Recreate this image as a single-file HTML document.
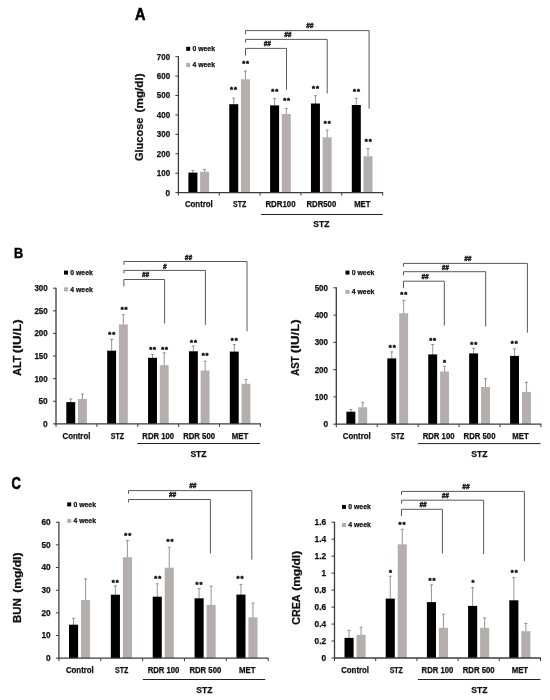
<!DOCTYPE html>
<html><head><meta charset="utf-8"><title>Figure</title>
<style>
html,body{margin:0;padding:0;background:#fff;}
svg{display:block;font-family:'Liberation Sans', sans-serif;}
</style></head>
<body>
<svg width="550" height="700" viewBox="0 0 550 700" font-family="'Liberation Sans', sans-serif">
<rect x="0" y="0" width="550" height="700" fill="#ffffff"/>
<line x1="192.90" y1="173.10" x2="192.90" y2="170.40" stroke="#7a7a7a" stroke-width="0.8"/>
<line x1="191.40" y1="170.40" x2="194.40" y2="170.40" stroke="#7a7a7a" stroke-width="0.8"/>
<line x1="204.60" y1="172.30" x2="204.60" y2="169.40" stroke="#7a7a7a" stroke-width="0.8"/>
<line x1="203.10" y1="169.40" x2="206.10" y2="169.40" stroke="#7a7a7a" stroke-width="0.8"/>
<rect x="188.40" y="172.60" width="9.00" height="20.00" fill="#000"/>
<rect x="200.10" y="171.80" width="9.00" height="20.80" fill="#b4aeac"/>
<line x1="233.75" y1="104.70" x2="233.75" y2="98.20" stroke="#7a7a7a" stroke-width="0.8"/>
<line x1="232.25" y1="98.20" x2="235.25" y2="98.20" stroke="#7a7a7a" stroke-width="0.8"/>
<line x1="245.45" y1="79.80" x2="245.45" y2="71.00" stroke="#7a7a7a" stroke-width="0.8"/>
<line x1="243.95" y1="71.00" x2="246.95" y2="71.00" stroke="#7a7a7a" stroke-width="0.8"/>
<rect x="229.25" y="104.20" width="9.00" height="88.40" fill="#000"/>
<rect x="240.95" y="79.30" width="9.00" height="113.30" fill="#b4aeac"/>
<line x1="274.60" y1="105.90" x2="274.60" y2="98.60" stroke="#7a7a7a" stroke-width="0.8"/>
<line x1="273.10" y1="98.60" x2="276.10" y2="98.60" stroke="#7a7a7a" stroke-width="0.8"/>
<line x1="286.30" y1="114.50" x2="286.30" y2="108.40" stroke="#7a7a7a" stroke-width="0.8"/>
<line x1="284.80" y1="108.40" x2="287.80" y2="108.40" stroke="#7a7a7a" stroke-width="0.8"/>
<rect x="270.10" y="105.40" width="9.00" height="87.20" fill="#000"/>
<rect x="281.80" y="114.00" width="9.00" height="78.60" fill="#b4aeac"/>
<line x1="315.45" y1="104.00" x2="315.45" y2="95.70" stroke="#7a7a7a" stroke-width="0.8"/>
<line x1="313.95" y1="95.70" x2="316.95" y2="95.70" stroke="#7a7a7a" stroke-width="0.8"/>
<line x1="327.15" y1="137.80" x2="327.15" y2="130.00" stroke="#7a7a7a" stroke-width="0.8"/>
<line x1="325.65" y1="130.00" x2="328.65" y2="130.00" stroke="#7a7a7a" stroke-width="0.8"/>
<rect x="310.95" y="103.50" width="9.00" height="89.10" fill="#000"/>
<rect x="322.65" y="137.30" width="9.00" height="55.30" fill="#b4aeac"/>
<line x1="356.30" y1="105.50" x2="356.30" y2="98.30" stroke="#7a7a7a" stroke-width="0.8"/>
<line x1="354.80" y1="98.30" x2="357.80" y2="98.30" stroke="#7a7a7a" stroke-width="0.8"/>
<line x1="368.00" y1="156.80" x2="368.00" y2="148.50" stroke="#7a7a7a" stroke-width="0.8"/>
<line x1="366.50" y1="148.50" x2="369.50" y2="148.50" stroke="#7a7a7a" stroke-width="0.8"/>
<rect x="351.80" y="105.00" width="9.00" height="87.60" fill="#000"/>
<rect x="363.50" y="156.30" width="9.00" height="36.30" fill="#b4aeac"/>
<line x1="178.40" y1="56.20" x2="178.40" y2="193.20" stroke="#3c3c3c" stroke-width="1.3"/>
<line x1="177.80" y1="192.60" x2="383.15" y2="192.60" stroke="#3c3c3c" stroke-width="1.3"/>
<line x1="175.40" y1="192.60" x2="178.40" y2="192.60" stroke="#3c3c3c" stroke-width="1"/>
<text x="170.10" y="195.55" font-size="8.3" text-anchor="end" fill="#111" font-weight="bold" stroke="#111" stroke-width="0.25">0</text>
<line x1="175.40" y1="173.19" x2="178.40" y2="173.19" stroke="#3c3c3c" stroke-width="1"/>
<text x="170.10" y="176.14" font-size="8.3" text-anchor="end" fill="#111" font-weight="bold" textLength="13.30" lengthAdjust="spacingAndGlyphs" stroke="#111" stroke-width="0.25">100</text>
<line x1="175.40" y1="153.77" x2="178.40" y2="153.77" stroke="#3c3c3c" stroke-width="1"/>
<text x="170.10" y="156.72" font-size="8.3" text-anchor="end" fill="#111" font-weight="bold" textLength="13.30" lengthAdjust="spacingAndGlyphs" stroke="#111" stroke-width="0.25">200</text>
<line x1="175.40" y1="134.36" x2="178.40" y2="134.36" stroke="#3c3c3c" stroke-width="1"/>
<text x="170.10" y="137.31" font-size="8.3" text-anchor="end" fill="#111" font-weight="bold" textLength="13.30" lengthAdjust="spacingAndGlyphs" stroke="#111" stroke-width="0.25">300</text>
<line x1="175.40" y1="114.94" x2="178.40" y2="114.94" stroke="#3c3c3c" stroke-width="1"/>
<text x="170.10" y="117.89" font-size="8.3" text-anchor="end" fill="#111" font-weight="bold" textLength="13.30" lengthAdjust="spacingAndGlyphs" stroke="#111" stroke-width="0.25">400</text>
<line x1="175.40" y1="95.53" x2="178.40" y2="95.53" stroke="#3c3c3c" stroke-width="1"/>
<text x="170.10" y="98.48" font-size="8.3" text-anchor="end" fill="#111" font-weight="bold" textLength="13.30" lengthAdjust="spacingAndGlyphs" stroke="#111" stroke-width="0.25">500</text>
<line x1="175.40" y1="76.11" x2="178.40" y2="76.11" stroke="#3c3c3c" stroke-width="1"/>
<text x="170.10" y="79.06" font-size="8.3" text-anchor="end" fill="#111" font-weight="bold" textLength="13.30" lengthAdjust="spacingAndGlyphs" stroke="#111" stroke-width="0.25">600</text>
<line x1="175.40" y1="56.70" x2="178.40" y2="56.70" stroke="#3c3c3c" stroke-width="1"/>
<text x="170.10" y="59.65" font-size="8.3" text-anchor="end" fill="#111" font-weight="bold" textLength="13.30" lengthAdjust="spacingAndGlyphs" stroke="#111" stroke-width="0.25">700</text>
<line x1="178.40" y1="192.60" x2="178.40" y2="195.60" stroke="#3c3c3c" stroke-width="1"/>
<line x1="219.25" y1="192.60" x2="219.25" y2="195.60" stroke="#3c3c3c" stroke-width="1"/>
<line x1="260.10" y1="192.60" x2="260.10" y2="195.60" stroke="#3c3c3c" stroke-width="1"/>
<line x1="300.95" y1="192.60" x2="300.95" y2="195.60" stroke="#3c3c3c" stroke-width="1"/>
<line x1="341.80" y1="192.60" x2="341.80" y2="195.60" stroke="#3c3c3c" stroke-width="1"/>
<line x1="382.65" y1="192.60" x2="382.65" y2="195.60" stroke="#3c3c3c" stroke-width="1"/>
<text x="198.83" y="207.40" font-size="8.2" text-anchor="middle" fill="#111" font-weight="bold" textLength="27.90" lengthAdjust="spacingAndGlyphs" stroke="#111" stroke-width="0.25">Control</text>
<text x="239.68" y="207.40" font-size="8.2" text-anchor="middle" fill="#111" font-weight="bold" textLength="13.20" lengthAdjust="spacingAndGlyphs" stroke="#111" stroke-width="0.25">STZ</text>
<text x="280.52" y="207.40" font-size="8.2" text-anchor="middle" fill="#111" font-weight="bold" textLength="30.20" lengthAdjust="spacingAndGlyphs" stroke="#111" stroke-width="0.25">RDR100</text>
<text x="321.38" y="207.40" font-size="8.2" text-anchor="middle" fill="#111" font-weight="bold" textLength="29.70" lengthAdjust="spacingAndGlyphs" stroke="#111" stroke-width="0.25">RDR500</text>
<text x="362.23" y="207.40" font-size="8.2" text-anchor="middle" fill="#111" font-weight="bold" textLength="16.20" lengthAdjust="spacingAndGlyphs" stroke="#111" stroke-width="0.25">MET</text>
<line x1="261.00" y1="214.50" x2="382.70" y2="214.50" stroke="#222" stroke-width="1"/>
<text x="321.40" y="227.40" font-size="9.6" text-anchor="middle" fill="#111" font-weight="bold" textLength="16.20" lengthAdjust="spacingAndGlyphs" stroke="#111" stroke-width="0.25">STZ</text>
<text x="143.10" y="161.00" font-size="10.8" text-anchor="start" fill="#111" font-weight="bold" textLength="43.40" lengthAdjust="spacingAndGlyphs" transform="rotate(-90 143.10 161.00)" stroke="#111" stroke-width="0.25">Glucose</text>
<text x="143.10" y="112.40" font-size="10.8" text-anchor="start" fill="#111" font-weight="bold" textLength="39.10" lengthAdjust="spacingAndGlyphs" transform="rotate(-90 143.10 112.40)" stroke="#111" stroke-width="0.25">(mg/dl)</text>
<rect x="186.20" y="46.80" width="4.00" height="4.00" fill="#000"/>
<rect x="186.20" y="63.00" width="4.00" height="4.00" fill="#b4aeac"/>
<text x="192.50" y="51.20" font-size="6.9" text-anchor="start" fill="#111" font-weight="bold" textLength="22.50" lengthAdjust="spacingAndGlyphs" stroke="#111" stroke-width="0.25">0 week</text>
<text x="192.50" y="67.40" font-size="6.9" text-anchor="start" fill="#111" font-weight="bold" textLength="22.50" lengthAdjust="spacingAndGlyphs" stroke="#111" stroke-width="0.25">4 week</text>
<polyline points="245.50,34.30 245.50,30.60 369.10,30.60 369.10,108.80" fill="none" stroke="#5a5a5a" stroke-width="1" stroke-linejoin="round"/>
<text x="309.70" y="28.20" font-size="6.4" text-anchor="middle" fill="#222" font-weight="bold" font-style="italic" stroke="#222" stroke-width="0.45">##</text>
<polyline points="245.50,42.70 245.50,39.40 327.20,39.40 327.20,93.50" fill="none" stroke="#5a5a5a" stroke-width="1" stroke-linejoin="round"/>
<text x="287.70" y="37.40" font-size="6.4" text-anchor="middle" fill="#222" font-weight="bold" font-style="italic" stroke="#222" stroke-width="0.45">##</text>
<polyline points="245.50,55.60 245.50,48.40 286.50,48.40 286.50,89.80" fill="none" stroke="#5a5a5a" stroke-width="1" stroke-linejoin="round"/>
<text x="267.20" y="46.40" font-size="6.4" text-anchor="middle" fill="#222" font-weight="bold" font-style="italic" stroke="#222" stroke-width="0.45">##</text>
<text x="234.00" y="92.40" font-size="7.6" text-anchor="middle" fill="#111" font-weight="bold" stroke="#111" stroke-width="0.5" letter-spacing="1.0">**</text>
<text x="246.10" y="65.80" font-size="7.6" text-anchor="middle" fill="#111" font-weight="bold" stroke="#111" stroke-width="0.5" letter-spacing="1.0">**</text>
<text x="275.30" y="94.00" font-size="7.6" text-anchor="middle" fill="#111" font-weight="bold" stroke="#111" stroke-width="0.5" letter-spacing="1.0">**</text>
<text x="287.10" y="102.90" font-size="7.6" text-anchor="middle" fill="#111" font-weight="bold" stroke="#111" stroke-width="0.5" letter-spacing="1.0">**</text>
<text x="316.00" y="91.30" font-size="7.6" text-anchor="middle" fill="#111" font-weight="bold" stroke="#111" stroke-width="0.5" letter-spacing="1.0">**</text>
<text x="327.70" y="125.60" font-size="7.6" text-anchor="middle" fill="#111" font-weight="bold" stroke="#111" stroke-width="0.5" letter-spacing="1.0">**</text>
<text x="356.90" y="93.60" font-size="7.6" text-anchor="middle" fill="#111" font-weight="bold" stroke="#111" stroke-width="0.5" letter-spacing="1.0">**</text>
<text x="368.70" y="144.00" font-size="7.6" text-anchor="middle" fill="#111" font-weight="bold" stroke="#111" stroke-width="0.5" letter-spacing="1.0">**</text>
<text transform="translate(134.90,19.60) scale(0.93,1)" font-size="15.6" font-weight="bold" fill="#000" stroke="#000" stroke-width="0.55">A</text>
<line x1="70.75" y1="402.60" x2="70.75" y2="399.00" stroke="#7a7a7a" stroke-width="0.8"/>
<line x1="69.25" y1="399.00" x2="72.25" y2="399.00" stroke="#7a7a7a" stroke-width="0.8"/>
<line x1="82.45" y1="399.50" x2="82.45" y2="394.00" stroke="#7a7a7a" stroke-width="0.8"/>
<line x1="80.95" y1="394.00" x2="83.95" y2="394.00" stroke="#7a7a7a" stroke-width="0.8"/>
<rect x="66.30" y="402.10" width="8.90" height="21.80" fill="#000"/>
<rect x="78.00" y="399.00" width="8.90" height="24.90" fill="#b4aeac"/>
<line x1="111.63" y1="351.20" x2="111.63" y2="339.50" stroke="#7a7a7a" stroke-width="0.8"/>
<line x1="110.13" y1="339.50" x2="113.13" y2="339.50" stroke="#7a7a7a" stroke-width="0.8"/>
<line x1="123.33" y1="324.90" x2="123.33" y2="314.80" stroke="#7a7a7a" stroke-width="0.8"/>
<line x1="121.83" y1="314.80" x2="124.83" y2="314.80" stroke="#7a7a7a" stroke-width="0.8"/>
<rect x="107.18" y="350.70" width="8.90" height="73.20" fill="#000"/>
<rect x="118.88" y="324.40" width="8.90" height="99.50" fill="#b4aeac"/>
<line x1="152.51" y1="358.30" x2="152.51" y2="354.40" stroke="#7a7a7a" stroke-width="0.8"/>
<line x1="151.01" y1="354.40" x2="154.01" y2="354.40" stroke="#7a7a7a" stroke-width="0.8"/>
<line x1="164.21" y1="365.70" x2="164.21" y2="352.80" stroke="#7a7a7a" stroke-width="0.8"/>
<line x1="162.71" y1="352.80" x2="165.71" y2="352.80" stroke="#7a7a7a" stroke-width="0.8"/>
<rect x="148.06" y="357.80" width="8.90" height="66.10" fill="#000"/>
<rect x="159.76" y="365.20" width="8.90" height="58.70" fill="#b4aeac"/>
<line x1="193.39" y1="351.80" x2="193.39" y2="346.00" stroke="#7a7a7a" stroke-width="0.8"/>
<line x1="191.89" y1="346.00" x2="194.89" y2="346.00" stroke="#7a7a7a" stroke-width="0.8"/>
<line x1="205.09" y1="371.00" x2="205.09" y2="361.20" stroke="#7a7a7a" stroke-width="0.8"/>
<line x1="203.59" y1="361.20" x2="206.59" y2="361.20" stroke="#7a7a7a" stroke-width="0.8"/>
<rect x="188.94" y="351.30" width="8.90" height="72.60" fill="#000"/>
<rect x="200.64" y="370.50" width="8.90" height="53.40" fill="#b4aeac"/>
<line x1="234.27" y1="352.10" x2="234.27" y2="344.50" stroke="#7a7a7a" stroke-width="0.8"/>
<line x1="232.77" y1="344.50" x2="235.77" y2="344.50" stroke="#7a7a7a" stroke-width="0.8"/>
<line x1="245.97" y1="384.30" x2="245.97" y2="379.60" stroke="#7a7a7a" stroke-width="0.8"/>
<line x1="244.47" y1="379.60" x2="247.47" y2="379.60" stroke="#7a7a7a" stroke-width="0.8"/>
<rect x="229.82" y="351.60" width="8.90" height="72.30" fill="#000"/>
<rect x="241.52" y="383.80" width="8.90" height="40.10" fill="#b4aeac"/>
<line x1="56.00" y1="287.70" x2="56.00" y2="424.50" stroke="#3c3c3c" stroke-width="1.3"/>
<line x1="55.40" y1="423.90" x2="260.90" y2="423.90" stroke="#3c3c3c" stroke-width="1.3"/>
<line x1="53.00" y1="423.90" x2="56.00" y2="423.90" stroke="#3c3c3c" stroke-width="1"/>
<text x="47.70" y="426.85" font-size="8.3" text-anchor="end" fill="#111" font-weight="bold" stroke="#111" stroke-width="0.25">0</text>
<line x1="53.00" y1="401.28" x2="56.00" y2="401.28" stroke="#3c3c3c" stroke-width="1"/>
<text x="47.70" y="404.23" font-size="8.3" text-anchor="end" fill="#111" font-weight="bold" textLength="9.20" lengthAdjust="spacingAndGlyphs" stroke="#111" stroke-width="0.25">50</text>
<line x1="53.00" y1="378.67" x2="56.00" y2="378.67" stroke="#3c3c3c" stroke-width="1"/>
<text x="47.70" y="381.62" font-size="8.3" text-anchor="end" fill="#111" font-weight="bold" textLength="13.30" lengthAdjust="spacingAndGlyphs" stroke="#111" stroke-width="0.25">100</text>
<line x1="53.00" y1="356.05" x2="56.00" y2="356.05" stroke="#3c3c3c" stroke-width="1"/>
<text x="47.70" y="359.00" font-size="8.3" text-anchor="end" fill="#111" font-weight="bold" textLength="13.30" lengthAdjust="spacingAndGlyphs" stroke="#111" stroke-width="0.25">150</text>
<line x1="53.00" y1="333.43" x2="56.00" y2="333.43" stroke="#3c3c3c" stroke-width="1"/>
<text x="47.70" y="336.38" font-size="8.3" text-anchor="end" fill="#111" font-weight="bold" textLength="13.30" lengthAdjust="spacingAndGlyphs" stroke="#111" stroke-width="0.25">200</text>
<line x1="53.00" y1="310.82" x2="56.00" y2="310.82" stroke="#3c3c3c" stroke-width="1"/>
<text x="47.70" y="313.77" font-size="8.3" text-anchor="end" fill="#111" font-weight="bold" textLength="13.30" lengthAdjust="spacingAndGlyphs" stroke="#111" stroke-width="0.25">250</text>
<line x1="53.00" y1="288.20" x2="56.00" y2="288.20" stroke="#3c3c3c" stroke-width="1"/>
<text x="47.70" y="291.15" font-size="8.3" text-anchor="end" fill="#111" font-weight="bold" textLength="13.30" lengthAdjust="spacingAndGlyphs" stroke="#111" stroke-width="0.25">300</text>
<line x1="56.00" y1="423.90" x2="56.00" y2="426.90" stroke="#3c3c3c" stroke-width="1"/>
<line x1="96.88" y1="423.90" x2="96.88" y2="426.90" stroke="#3c3c3c" stroke-width="1"/>
<line x1="137.76" y1="423.90" x2="137.76" y2="426.90" stroke="#3c3c3c" stroke-width="1"/>
<line x1="178.64" y1="423.90" x2="178.64" y2="426.90" stroke="#3c3c3c" stroke-width="1"/>
<line x1="219.52" y1="423.90" x2="219.52" y2="426.90" stroke="#3c3c3c" stroke-width="1"/>
<line x1="260.40" y1="423.90" x2="260.40" y2="426.90" stroke="#3c3c3c" stroke-width="1"/>
<text x="76.44" y="438.70" font-size="8.2" text-anchor="middle" fill="#111" font-weight="bold" textLength="27.90" lengthAdjust="spacingAndGlyphs" stroke="#111" stroke-width="0.25">Control</text>
<text x="117.32" y="438.70" font-size="8.2" text-anchor="middle" fill="#111" font-weight="bold" textLength="13.20" lengthAdjust="spacingAndGlyphs" stroke="#111" stroke-width="0.25">STZ</text>
<text x="158.20" y="438.70" font-size="8.2" text-anchor="middle" fill="#111" font-weight="bold" textLength="31.80" lengthAdjust="spacingAndGlyphs" stroke="#111" stroke-width="0.25">RDR 100</text>
<text x="199.08" y="438.70" font-size="8.2" text-anchor="middle" fill="#111" font-weight="bold" textLength="31.90" lengthAdjust="spacingAndGlyphs" stroke="#111" stroke-width="0.25">RDR 500</text>
<text x="239.96" y="438.70" font-size="8.2" text-anchor="middle" fill="#111" font-weight="bold" textLength="16.50" lengthAdjust="spacingAndGlyphs" stroke="#111" stroke-width="0.25">MET</text>
<line x1="137.30" y1="443.50" x2="260.20" y2="443.50" stroke="#222" stroke-width="1"/>
<text x="198.50" y="456.90" font-size="9.6" text-anchor="middle" fill="#111" font-weight="bold" textLength="16.20" lengthAdjust="spacingAndGlyphs" stroke="#111" stroke-width="0.25">STZ</text>
<text x="21.20" y="375.70" font-size="10.8" text-anchor="start" fill="#111" font-weight="bold" textLength="19.90" lengthAdjust="spacingAndGlyphs" transform="rotate(-90 21.20 375.70)" stroke="#111" stroke-width="0.25">ALT</text>
<text x="21.20" y="353.20" font-size="10.8" text-anchor="start" fill="#111" font-weight="bold" textLength="33.90" lengthAdjust="spacingAndGlyphs" transform="rotate(-90 21.20 353.20)" stroke="#111" stroke-width="0.25">(IU/L)</text>
<rect x="64.00" y="270.60" width="4.00" height="4.00" fill="#000"/>
<rect x="64.00" y="287.40" width="4.00" height="4.00" fill="#b4aeac"/>
<text x="70.30" y="275.00" font-size="6.9" text-anchor="start" fill="#111" font-weight="bold" textLength="22.50" lengthAdjust="spacingAndGlyphs" stroke="#111" stroke-width="0.25">0 week</text>
<text x="70.30" y="291.80" font-size="6.9" text-anchor="start" fill="#111" font-weight="bold" textLength="22.50" lengthAdjust="spacingAndGlyphs" stroke="#111" stroke-width="0.25">4 week</text>
<polyline points="123.90,264.80 123.90,261.50 247.00,261.50 247.00,331.20" fill="none" stroke="#5a5a5a" stroke-width="1" stroke-linejoin="round"/>
<text x="188.40" y="259.50" font-size="6.4" text-anchor="middle" fill="#222" font-weight="bold" font-style="italic" stroke="#222" stroke-width="0.45">##</text>
<polyline points="123.90,273.50 123.90,270.40 205.40,270.40 205.40,325.00" fill="none" stroke="#5a5a5a" stroke-width="1" stroke-linejoin="round"/>
<text x="164.90" y="268.50" font-size="6.4" text-anchor="middle" fill="#222" font-weight="bold" font-style="italic" stroke="#222" stroke-width="0.45">#</text>
<polyline points="123.90,286.40 123.90,279.50 164.60,279.50 164.60,323.50" fill="none" stroke="#5a5a5a" stroke-width="1" stroke-linejoin="round"/>
<text x="145.50" y="277.30" font-size="6.4" text-anchor="middle" fill="#222" font-weight="bold" font-style="italic" stroke="#222" stroke-width="0.45">##</text>
<text x="112.20" y="336.50" font-size="7.6" text-anchor="middle" fill="#111" font-weight="bold" stroke="#111" stroke-width="0.5" letter-spacing="1.0">**</text>
<text x="124.60" y="311.80" font-size="7.6" text-anchor="middle" fill="#111" font-weight="bold" stroke="#111" stroke-width="0.5" letter-spacing="1.0">**</text>
<text x="153.10" y="351.70" font-size="7.6" text-anchor="middle" fill="#111" font-weight="bold" stroke="#111" stroke-width="0.5" letter-spacing="1.0">**</text>
<text x="165.10" y="351.70" font-size="7.6" text-anchor="middle" fill="#111" font-weight="bold" stroke="#111" stroke-width="0.5" letter-spacing="1.0">**</text>
<text x="193.90" y="345.20" font-size="7.6" text-anchor="middle" fill="#111" font-weight="bold" stroke="#111" stroke-width="0.5" letter-spacing="1.0">**</text>
<text x="205.60" y="357.60" font-size="7.6" text-anchor="middle" fill="#111" font-weight="bold" stroke="#111" stroke-width="0.5" letter-spacing="1.0">**</text>
<text x="234.70" y="343.00" font-size="7.6" text-anchor="middle" fill="#111" font-weight="bold" stroke="#111" stroke-width="0.5" letter-spacing="1.0">**</text>
<text transform="translate(13.90,258.00) scale(0.83,1)" font-size="15.3" font-weight="bold" fill="#000" stroke="#000" stroke-width="0.55">B</text>
<line x1="350.85" y1="412.20" x2="350.85" y2="409.50" stroke="#7a7a7a" stroke-width="0.8"/>
<line x1="349.35" y1="409.50" x2="352.35" y2="409.50" stroke="#7a7a7a" stroke-width="0.8"/>
<line x1="362.75" y1="407.80" x2="362.75" y2="402.50" stroke="#7a7a7a" stroke-width="0.8"/>
<line x1="361.25" y1="402.50" x2="364.25" y2="402.50" stroke="#7a7a7a" stroke-width="0.8"/>
<rect x="346.40" y="411.70" width="8.90" height="12.50" fill="#000"/>
<rect x="358.30" y="407.30" width="8.90" height="16.90" fill="#b4aeac"/>
<line x1="391.77" y1="358.90" x2="391.77" y2="351.90" stroke="#7a7a7a" stroke-width="0.8"/>
<line x1="390.27" y1="351.90" x2="393.27" y2="351.90" stroke="#7a7a7a" stroke-width="0.8"/>
<line x1="403.67" y1="313.70" x2="403.67" y2="300.30" stroke="#7a7a7a" stroke-width="0.8"/>
<line x1="402.17" y1="300.30" x2="405.17" y2="300.30" stroke="#7a7a7a" stroke-width="0.8"/>
<rect x="387.32" y="358.40" width="8.90" height="65.80" fill="#000"/>
<rect x="399.22" y="313.20" width="8.90" height="111.00" fill="#b4aeac"/>
<line x1="432.69" y1="354.90" x2="432.69" y2="344.50" stroke="#7a7a7a" stroke-width="0.8"/>
<line x1="431.19" y1="344.50" x2="434.19" y2="344.50" stroke="#7a7a7a" stroke-width="0.8"/>
<line x1="444.59" y1="372.00" x2="444.59" y2="366.30" stroke="#7a7a7a" stroke-width="0.8"/>
<line x1="443.09" y1="366.30" x2="446.09" y2="366.30" stroke="#7a7a7a" stroke-width="0.8"/>
<rect x="428.24" y="354.40" width="8.90" height="69.80" fill="#000"/>
<rect x="440.14" y="371.50" width="8.90" height="52.70" fill="#b4aeac"/>
<line x1="473.61" y1="353.90" x2="473.61" y2="348.20" stroke="#7a7a7a" stroke-width="0.8"/>
<line x1="472.11" y1="348.20" x2="475.11" y2="348.20" stroke="#7a7a7a" stroke-width="0.8"/>
<line x1="485.51" y1="387.50" x2="485.51" y2="378.60" stroke="#7a7a7a" stroke-width="0.8"/>
<line x1="484.01" y1="378.60" x2="487.01" y2="378.60" stroke="#7a7a7a" stroke-width="0.8"/>
<rect x="469.16" y="353.40" width="8.90" height="70.80" fill="#000"/>
<rect x="481.06" y="387.00" width="8.90" height="37.20" fill="#b4aeac"/>
<line x1="514.53" y1="356.40" x2="514.53" y2="348.80" stroke="#7a7a7a" stroke-width="0.8"/>
<line x1="513.03" y1="348.80" x2="516.03" y2="348.80" stroke="#7a7a7a" stroke-width="0.8"/>
<line x1="526.43" y1="392.40" x2="526.43" y2="382.30" stroke="#7a7a7a" stroke-width="0.8"/>
<line x1="524.93" y1="382.30" x2="527.93" y2="382.30" stroke="#7a7a7a" stroke-width="0.8"/>
<rect x="510.08" y="355.90" width="8.90" height="68.30" fill="#000"/>
<rect x="521.98" y="391.90" width="8.90" height="32.30" fill="#b4aeac"/>
<line x1="336.30" y1="287.30" x2="336.30" y2="424.80" stroke="#3c3c3c" stroke-width="1.3"/>
<line x1="335.70" y1="424.20" x2="541.40" y2="424.20" stroke="#3c3c3c" stroke-width="1.3"/>
<line x1="333.30" y1="424.20" x2="336.30" y2="424.20" stroke="#3c3c3c" stroke-width="1"/>
<text x="328.00" y="427.15" font-size="8.3" text-anchor="end" fill="#111" font-weight="bold" stroke="#111" stroke-width="0.25">0</text>
<line x1="333.30" y1="396.92" x2="336.30" y2="396.92" stroke="#3c3c3c" stroke-width="1"/>
<text x="328.00" y="399.87" font-size="8.3" text-anchor="end" fill="#111" font-weight="bold" textLength="13.30" lengthAdjust="spacingAndGlyphs" stroke="#111" stroke-width="0.25">100</text>
<line x1="333.30" y1="369.64" x2="336.30" y2="369.64" stroke="#3c3c3c" stroke-width="1"/>
<text x="328.00" y="372.59" font-size="8.3" text-anchor="end" fill="#111" font-weight="bold" textLength="13.30" lengthAdjust="spacingAndGlyphs" stroke="#111" stroke-width="0.25">200</text>
<line x1="333.30" y1="342.36" x2="336.30" y2="342.36" stroke="#3c3c3c" stroke-width="1"/>
<text x="328.00" y="345.31" font-size="8.3" text-anchor="end" fill="#111" font-weight="bold" textLength="13.30" lengthAdjust="spacingAndGlyphs" stroke="#111" stroke-width="0.25">300</text>
<line x1="333.30" y1="315.08" x2="336.30" y2="315.08" stroke="#3c3c3c" stroke-width="1"/>
<text x="328.00" y="318.03" font-size="8.3" text-anchor="end" fill="#111" font-weight="bold" textLength="13.30" lengthAdjust="spacingAndGlyphs" stroke="#111" stroke-width="0.25">400</text>
<line x1="333.30" y1="287.80" x2="336.30" y2="287.80" stroke="#3c3c3c" stroke-width="1"/>
<text x="328.00" y="290.75" font-size="8.3" text-anchor="end" fill="#111" font-weight="bold" textLength="13.30" lengthAdjust="spacingAndGlyphs" stroke="#111" stroke-width="0.25">500</text>
<line x1="336.30" y1="424.20" x2="336.30" y2="427.20" stroke="#3c3c3c" stroke-width="1"/>
<line x1="377.22" y1="424.20" x2="377.22" y2="427.20" stroke="#3c3c3c" stroke-width="1"/>
<line x1="418.14" y1="424.20" x2="418.14" y2="427.20" stroke="#3c3c3c" stroke-width="1"/>
<line x1="459.06" y1="424.20" x2="459.06" y2="427.20" stroke="#3c3c3c" stroke-width="1"/>
<line x1="499.98" y1="424.20" x2="499.98" y2="427.20" stroke="#3c3c3c" stroke-width="1"/>
<line x1="540.90" y1="424.20" x2="540.90" y2="427.20" stroke="#3c3c3c" stroke-width="1"/>
<text x="356.76" y="439.00" font-size="8.2" text-anchor="middle" fill="#111" font-weight="bold" textLength="27.90" lengthAdjust="spacingAndGlyphs" stroke="#111" stroke-width="0.25">Control</text>
<text x="397.68" y="439.00" font-size="8.2" text-anchor="middle" fill="#111" font-weight="bold" textLength="13.20" lengthAdjust="spacingAndGlyphs" stroke="#111" stroke-width="0.25">STZ</text>
<text x="438.60" y="439.00" font-size="8.2" text-anchor="middle" fill="#111" font-weight="bold" textLength="31.80" lengthAdjust="spacingAndGlyphs" stroke="#111" stroke-width="0.25">RDR 100</text>
<text x="479.52" y="439.00" font-size="8.2" text-anchor="middle" fill="#111" font-weight="bold" textLength="31.90" lengthAdjust="spacingAndGlyphs" stroke="#111" stroke-width="0.25">RDR 500</text>
<text x="520.44" y="439.00" font-size="8.2" text-anchor="middle" fill="#111" font-weight="bold" textLength="16.50" lengthAdjust="spacingAndGlyphs" stroke="#111" stroke-width="0.25">MET</text>
<line x1="417.80" y1="443.60" x2="540.50" y2="443.60" stroke="#222" stroke-width="1"/>
<text x="479.40" y="457.00" font-size="9.6" text-anchor="middle" fill="#111" font-weight="bold" textLength="16.20" lengthAdjust="spacingAndGlyphs" stroke="#111" stroke-width="0.25">STZ</text>
<text x="299.00" y="375.70" font-size="10.8" text-anchor="start" fill="#111" font-weight="bold" textLength="19.40" lengthAdjust="spacingAndGlyphs" transform="rotate(-90 299.00 375.70)" stroke="#111" stroke-width="0.25">AST</text>
<text x="299.00" y="353.20" font-size="10.8" text-anchor="start" fill="#111" font-weight="bold" textLength="33.90" lengthAdjust="spacingAndGlyphs" transform="rotate(-90 299.00 353.20)" stroke="#111" stroke-width="0.25">(IU/L)</text>
<rect x="345.50" y="270.60" width="4.00" height="4.00" fill="#000"/>
<rect x="345.50" y="289.90" width="4.00" height="4.00" fill="#b4aeac"/>
<text x="351.80" y="275.00" font-size="6.9" text-anchor="start" fill="#111" font-weight="bold" textLength="22.50" lengthAdjust="spacingAndGlyphs" stroke="#111" stroke-width="0.25">0 week</text>
<text x="351.80" y="294.30" font-size="6.9" text-anchor="start" fill="#111" font-weight="bold" textLength="22.50" lengthAdjust="spacingAndGlyphs" stroke="#111" stroke-width="0.25">4 week</text>
<polyline points="403.50,266.60 403.50,263.40 527.40,263.40 527.40,332.70" fill="none" stroke="#5a5a5a" stroke-width="1" stroke-linejoin="round"/>
<text x="467.80" y="261.00" font-size="6.4" text-anchor="middle" fill="#222" font-weight="bold" font-style="italic" stroke="#222" stroke-width="0.45">##</text>
<polyline points="403.50,275.20 403.50,271.70 485.70,271.70 485.70,326.50" fill="none" stroke="#5a5a5a" stroke-width="1" stroke-linejoin="round"/>
<text x="445.20" y="270.00" font-size="6.4" text-anchor="middle" fill="#222" font-weight="bold" font-style="italic" stroke="#222" stroke-width="0.45">##</text>
<polyline points="403.50,288.20 403.50,281.20 444.30,281.20 444.30,325.60" fill="none" stroke="#5a5a5a" stroke-width="1" stroke-linejoin="round"/>
<text x="425.10" y="278.90" font-size="6.4" text-anchor="middle" fill="#222" font-weight="bold" font-style="italic" stroke="#222" stroke-width="0.45">##</text>
<text x="392.80" y="349.50" font-size="7.6" text-anchor="middle" fill="#111" font-weight="bold" stroke="#111" stroke-width="0.5" letter-spacing="1.0">**</text>
<text x="404.30" y="297.00" font-size="7.6" text-anchor="middle" fill="#111" font-weight="bold" stroke="#111" stroke-width="0.5" letter-spacing="1.0">**</text>
<text x="433.10" y="343.30" font-size="7.6" text-anchor="middle" fill="#111" font-weight="bold" stroke="#111" stroke-width="0.5" letter-spacing="1.0">**</text>
<text x="445.10" y="364.60" font-size="7.6" text-anchor="middle" fill="#111" font-weight="bold" stroke="#111" stroke-width="0.5" letter-spacing="1.0">*</text>
<text x="474.20" y="347.40" font-size="7.6" text-anchor="middle" fill="#111" font-weight="bold" stroke="#111" stroke-width="0.5" letter-spacing="1.0">**</text>
<text x="514.70" y="346.40" font-size="7.6" text-anchor="middle" fill="#111" font-weight="bold" stroke="#111" stroke-width="0.5" letter-spacing="1.0">**</text>
<line x1="73.55" y1="625.20" x2="73.55" y2="618.30" stroke="#7a7a7a" stroke-width="0.8"/>
<line x1="72.05" y1="618.30" x2="75.05" y2="618.30" stroke="#7a7a7a" stroke-width="0.8"/>
<line x1="85.55" y1="600.50" x2="85.55" y2="578.90" stroke="#7a7a7a" stroke-width="0.8"/>
<line x1="84.05" y1="578.90" x2="87.05" y2="578.90" stroke="#7a7a7a" stroke-width="0.8"/>
<rect x="69.00" y="624.70" width="9.10" height="33.50" fill="#000"/>
<rect x="81.00" y="600.00" width="9.10" height="58.20" fill="#b4aeac"/>
<line x1="115.40" y1="595.20" x2="115.40" y2="585.80" stroke="#7a7a7a" stroke-width="0.8"/>
<line x1="113.90" y1="585.80" x2="116.90" y2="585.80" stroke="#7a7a7a" stroke-width="0.8"/>
<line x1="127.40" y1="557.70" x2="127.40" y2="540.50" stroke="#7a7a7a" stroke-width="0.8"/>
<line x1="125.90" y1="540.50" x2="128.90" y2="540.50" stroke="#7a7a7a" stroke-width="0.8"/>
<rect x="110.85" y="594.70" width="9.10" height="63.50" fill="#000"/>
<rect x="122.85" y="557.20" width="9.10" height="101.00" fill="#b4aeac"/>
<line x1="157.25" y1="597.20" x2="157.25" y2="583.80" stroke="#7a7a7a" stroke-width="0.8"/>
<line x1="155.75" y1="583.80" x2="158.75" y2="583.80" stroke="#7a7a7a" stroke-width="0.8"/>
<line x1="169.25" y1="568.20" x2="169.25" y2="547.30" stroke="#7a7a7a" stroke-width="0.8"/>
<line x1="167.75" y1="547.30" x2="170.75" y2="547.30" stroke="#7a7a7a" stroke-width="0.8"/>
<rect x="152.70" y="596.70" width="9.10" height="61.50" fill="#000"/>
<rect x="164.70" y="567.70" width="9.10" height="90.50" fill="#b4aeac"/>
<line x1="199.10" y1="598.80" x2="199.10" y2="588.40" stroke="#7a7a7a" stroke-width="0.8"/>
<line x1="197.60" y1="588.40" x2="200.60" y2="588.40" stroke="#7a7a7a" stroke-width="0.8"/>
<line x1="211.10" y1="605.40" x2="211.10" y2="586.10" stroke="#7a7a7a" stroke-width="0.8"/>
<line x1="209.60" y1="586.10" x2="212.60" y2="586.10" stroke="#7a7a7a" stroke-width="0.8"/>
<rect x="194.55" y="598.30" width="9.10" height="59.90" fill="#000"/>
<rect x="206.55" y="604.90" width="9.10" height="53.30" fill="#b4aeac"/>
<line x1="240.95" y1="595.10" x2="240.95" y2="584.40" stroke="#7a7a7a" stroke-width="0.8"/>
<line x1="239.45" y1="584.40" x2="242.45" y2="584.40" stroke="#7a7a7a" stroke-width="0.8"/>
<line x1="252.95" y1="617.80" x2="252.95" y2="603.10" stroke="#7a7a7a" stroke-width="0.8"/>
<line x1="251.45" y1="603.10" x2="254.45" y2="603.10" stroke="#7a7a7a" stroke-width="0.8"/>
<rect x="236.40" y="594.60" width="9.10" height="63.60" fill="#000"/>
<rect x="248.40" y="617.30" width="9.10" height="40.90" fill="#b4aeac"/>
<line x1="58.90" y1="521.70" x2="58.90" y2="658.80" stroke="#3c3c3c" stroke-width="1.3"/>
<line x1="58.30" y1="658.20" x2="268.65" y2="658.20" stroke="#3c3c3c" stroke-width="1.3"/>
<line x1="55.90" y1="658.20" x2="58.90" y2="658.20" stroke="#3c3c3c" stroke-width="1"/>
<text x="50.60" y="661.15" font-size="8.3" text-anchor="end" fill="#111" font-weight="bold" stroke="#111" stroke-width="0.25">0</text>
<line x1="55.90" y1="635.53" x2="58.90" y2="635.53" stroke="#3c3c3c" stroke-width="1"/>
<text x="50.60" y="638.48" font-size="8.3" text-anchor="end" fill="#111" font-weight="bold" textLength="9.20" lengthAdjust="spacingAndGlyphs" stroke="#111" stroke-width="0.25">10</text>
<line x1="55.90" y1="612.87" x2="58.90" y2="612.87" stroke="#3c3c3c" stroke-width="1"/>
<text x="50.60" y="615.82" font-size="8.3" text-anchor="end" fill="#111" font-weight="bold" textLength="9.20" lengthAdjust="spacingAndGlyphs" stroke="#111" stroke-width="0.25">20</text>
<line x1="55.90" y1="590.20" x2="58.90" y2="590.20" stroke="#3c3c3c" stroke-width="1"/>
<text x="50.60" y="593.15" font-size="8.3" text-anchor="end" fill="#111" font-weight="bold" textLength="9.20" lengthAdjust="spacingAndGlyphs" stroke="#111" stroke-width="0.25">30</text>
<line x1="55.90" y1="567.53" x2="58.90" y2="567.53" stroke="#3c3c3c" stroke-width="1"/>
<text x="50.60" y="570.48" font-size="8.3" text-anchor="end" fill="#111" font-weight="bold" textLength="9.20" lengthAdjust="spacingAndGlyphs" stroke="#111" stroke-width="0.25">40</text>
<line x1="55.90" y1="544.87" x2="58.90" y2="544.87" stroke="#3c3c3c" stroke-width="1"/>
<text x="50.60" y="547.82" font-size="8.3" text-anchor="end" fill="#111" font-weight="bold" textLength="9.20" lengthAdjust="spacingAndGlyphs" stroke="#111" stroke-width="0.25">50</text>
<line x1="55.90" y1="522.20" x2="58.90" y2="522.20" stroke="#3c3c3c" stroke-width="1"/>
<text x="50.60" y="525.15" font-size="8.3" text-anchor="end" fill="#111" font-weight="bold" textLength="9.20" lengthAdjust="spacingAndGlyphs" stroke="#111" stroke-width="0.25">60</text>
<line x1="58.90" y1="658.20" x2="58.90" y2="661.20" stroke="#3c3c3c" stroke-width="1"/>
<line x1="100.75" y1="658.20" x2="100.75" y2="661.20" stroke="#3c3c3c" stroke-width="1"/>
<line x1="142.60" y1="658.20" x2="142.60" y2="661.20" stroke="#3c3c3c" stroke-width="1"/>
<line x1="184.45" y1="658.20" x2="184.45" y2="661.20" stroke="#3c3c3c" stroke-width="1"/>
<line x1="226.30" y1="658.20" x2="226.30" y2="661.20" stroke="#3c3c3c" stroke-width="1"/>
<line x1="268.15" y1="658.20" x2="268.15" y2="661.20" stroke="#3c3c3c" stroke-width="1"/>
<text x="79.83" y="673.00" font-size="8.2" text-anchor="middle" fill="#111" font-weight="bold" textLength="27.90" lengthAdjust="spacingAndGlyphs" stroke="#111" stroke-width="0.25">Control</text>
<text x="121.68" y="673.00" font-size="8.2" text-anchor="middle" fill="#111" font-weight="bold" textLength="13.20" lengthAdjust="spacingAndGlyphs" stroke="#111" stroke-width="0.25">STZ</text>
<text x="163.53" y="673.00" font-size="8.2" text-anchor="middle" fill="#111" font-weight="bold" textLength="31.80" lengthAdjust="spacingAndGlyphs" stroke="#111" stroke-width="0.25">RDR 100</text>
<text x="205.38" y="673.00" font-size="8.2" text-anchor="middle" fill="#111" font-weight="bold" textLength="31.90" lengthAdjust="spacingAndGlyphs" stroke="#111" stroke-width="0.25">RDR 500</text>
<text x="247.23" y="673.00" font-size="8.2" text-anchor="middle" fill="#111" font-weight="bold" textLength="16.50" lengthAdjust="spacingAndGlyphs" stroke="#111" stroke-width="0.25">MET</text>
<line x1="142.80" y1="679.50" x2="265.30" y2="679.50" stroke="#222" stroke-width="1"/>
<text x="204.40" y="692.80" font-size="9.6" text-anchor="middle" fill="#111" font-weight="bold" textLength="16.20" lengthAdjust="spacingAndGlyphs" stroke="#111" stroke-width="0.25">STZ</text>
<text x="20.70" y="623.00" font-size="10.8" text-anchor="start" fill="#111" font-weight="bold" textLength="24.90" lengthAdjust="spacingAndGlyphs" transform="rotate(-90 20.70 623.00)" stroke="#111" stroke-width="0.25">BUN</text>
<text x="20.70" y="592.70" font-size="10.8" text-anchor="start" fill="#111" font-weight="bold" textLength="40.10" lengthAdjust="spacingAndGlyphs" transform="rotate(-90 20.70 592.70)" stroke="#111" stroke-width="0.25">(mg/dl)</text>
<rect x="67.20" y="502.40" width="4.00" height="4.00" fill="#000"/>
<rect x="67.20" y="518.90" width="4.00" height="4.00" fill="#b4aeac"/>
<text x="73.50" y="506.80" font-size="6.9" text-anchor="start" fill="#111" font-weight="bold" textLength="22.50" lengthAdjust="spacingAndGlyphs" stroke="#111" stroke-width="0.25">0 week</text>
<text x="73.50" y="523.30" font-size="6.9" text-anchor="start" fill="#111" font-weight="bold" textLength="22.50" lengthAdjust="spacingAndGlyphs" stroke="#111" stroke-width="0.25">4 week</text>
<polyline points="128.50,493.80 128.50,490.60 251.80,490.60 251.80,559.60" fill="none" stroke="#5a5a5a" stroke-width="1" stroke-linejoin="round"/>
<text x="192.70" y="488.00" font-size="6.4" text-anchor="middle" fill="#222" font-weight="bold" font-style="italic" stroke="#222" stroke-width="0.45">##</text>
<polyline points="128.50,502.50 128.50,499.50 210.40,499.50 210.40,553.50" fill="none" stroke="#5a5a5a" stroke-width="1" stroke-linejoin="round"/>
<text x="172.60" y="496.90" font-size="6.4" text-anchor="middle" fill="#222" font-weight="bold" font-style="italic" stroke="#222" stroke-width="0.45">##</text>
<text x="115.80" y="584.70" font-size="7.6" text-anchor="middle" fill="#111" font-weight="bold" stroke="#111" stroke-width="0.5" letter-spacing="1.0">**</text>
<text x="128.30" y="538.10" font-size="7.6" text-anchor="middle" fill="#111" font-weight="bold" stroke="#111" stroke-width="0.5" letter-spacing="1.0">**</text>
<text x="158.30" y="581.40" font-size="7.6" text-anchor="middle" fill="#111" font-weight="bold" stroke="#111" stroke-width="0.5" letter-spacing="1.0">**</text>
<text x="170.40" y="544.00" font-size="7.6" text-anchor="middle" fill="#111" font-weight="bold" stroke="#111" stroke-width="0.5" letter-spacing="1.0">**</text>
<text x="199.40" y="586.60" font-size="7.6" text-anchor="middle" fill="#111" font-weight="bold" stroke="#111" stroke-width="0.5" letter-spacing="1.0">**</text>
<text x="240.50" y="581.10" font-size="7.6" text-anchor="middle" fill="#111" font-weight="bold" stroke="#111" stroke-width="0.5" letter-spacing="1.0">**</text>
<text transform="translate(11.60,488.80) scale(0.82,1)" font-size="15.8" font-weight="bold" fill="#000" stroke="#000" stroke-width="0.55">C</text>
<line x1="349.05" y1="638.40" x2="349.05" y2="630.30" stroke="#7a7a7a" stroke-width="0.8"/>
<line x1="347.55" y1="630.30" x2="350.55" y2="630.30" stroke="#7a7a7a" stroke-width="0.8"/>
<line x1="361.05" y1="635.40" x2="361.05" y2="627.30" stroke="#7a7a7a" stroke-width="0.8"/>
<line x1="359.55" y1="627.30" x2="362.55" y2="627.30" stroke="#7a7a7a" stroke-width="0.8"/>
<rect x="344.50" y="637.90" width="9.10" height="20.10" fill="#000"/>
<rect x="356.50" y="634.90" width="9.10" height="23.10" fill="#b4aeac"/>
<line x1="390.25" y1="599.10" x2="390.25" y2="576.20" stroke="#7a7a7a" stroke-width="0.8"/>
<line x1="388.75" y1="576.20" x2="391.75" y2="576.20" stroke="#7a7a7a" stroke-width="0.8"/>
<line x1="402.25" y1="544.80" x2="402.25" y2="529.30" stroke="#7a7a7a" stroke-width="0.8"/>
<line x1="400.75" y1="529.30" x2="403.75" y2="529.30" stroke="#7a7a7a" stroke-width="0.8"/>
<rect x="385.70" y="598.60" width="9.10" height="59.40" fill="#000"/>
<rect x="397.70" y="544.30" width="9.10" height="113.70" fill="#b4aeac"/>
<line x1="431.45" y1="602.60" x2="431.45" y2="584.80" stroke="#7a7a7a" stroke-width="0.8"/>
<line x1="429.95" y1="584.80" x2="432.95" y2="584.80" stroke="#7a7a7a" stroke-width="0.8"/>
<line x1="443.45" y1="628.30" x2="443.45" y2="614.20" stroke="#7a7a7a" stroke-width="0.8"/>
<line x1="441.95" y1="614.20" x2="444.95" y2="614.20" stroke="#7a7a7a" stroke-width="0.8"/>
<rect x="426.90" y="602.10" width="9.10" height="55.90" fill="#000"/>
<rect x="438.90" y="627.80" width="9.10" height="30.20" fill="#b4aeac"/>
<line x1="472.65" y1="606.40" x2="472.65" y2="587.60" stroke="#7a7a7a" stroke-width="0.8"/>
<line x1="471.15" y1="587.60" x2="474.15" y2="587.60" stroke="#7a7a7a" stroke-width="0.8"/>
<line x1="484.65" y1="628.30" x2="484.65" y2="617.90" stroke="#7a7a7a" stroke-width="0.8"/>
<line x1="483.15" y1="617.90" x2="486.15" y2="617.90" stroke="#7a7a7a" stroke-width="0.8"/>
<rect x="468.10" y="605.90" width="9.10" height="52.10" fill="#000"/>
<rect x="480.10" y="627.80" width="9.10" height="30.20" fill="#b4aeac"/>
<line x1="513.85" y1="600.80" x2="513.85" y2="577.70" stroke="#7a7a7a" stroke-width="0.8"/>
<line x1="512.35" y1="577.70" x2="515.35" y2="577.70" stroke="#7a7a7a" stroke-width="0.8"/>
<line x1="525.85" y1="631.70" x2="525.85" y2="623.50" stroke="#7a7a7a" stroke-width="0.8"/>
<line x1="524.35" y1="623.50" x2="527.35" y2="623.50" stroke="#7a7a7a" stroke-width="0.8"/>
<rect x="509.30" y="600.30" width="9.10" height="57.70" fill="#000"/>
<rect x="521.30" y="631.20" width="9.10" height="26.80" fill="#b4aeac"/>
<line x1="334.50" y1="521.70" x2="334.50" y2="658.60" stroke="#3c3c3c" stroke-width="1.3"/>
<line x1="333.90" y1="658.00" x2="541.00" y2="658.00" stroke="#3c3c3c" stroke-width="1.3"/>
<line x1="331.50" y1="658.00" x2="334.50" y2="658.00" stroke="#3c3c3c" stroke-width="1"/>
<text x="326.20" y="660.95" font-size="8.3" text-anchor="end" fill="#111" font-weight="bold" stroke="#111" stroke-width="0.25">0</text>
<line x1="331.50" y1="641.02" x2="334.50" y2="641.02" stroke="#3c3c3c" stroke-width="1"/>
<text x="326.20" y="643.98" font-size="8.3" text-anchor="end" fill="#111" font-weight="bold" textLength="11.60" lengthAdjust="spacingAndGlyphs" stroke="#111" stroke-width="0.25">0.2</text>
<line x1="331.50" y1="624.05" x2="334.50" y2="624.05" stroke="#3c3c3c" stroke-width="1"/>
<text x="326.20" y="627.00" font-size="8.3" text-anchor="end" fill="#111" font-weight="bold" textLength="11.60" lengthAdjust="spacingAndGlyphs" stroke="#111" stroke-width="0.25">0.4</text>
<line x1="331.50" y1="607.08" x2="334.50" y2="607.08" stroke="#3c3c3c" stroke-width="1"/>
<text x="326.20" y="610.03" font-size="8.3" text-anchor="end" fill="#111" font-weight="bold" textLength="11.60" lengthAdjust="spacingAndGlyphs" stroke="#111" stroke-width="0.25">0.6</text>
<line x1="331.50" y1="590.10" x2="334.50" y2="590.10" stroke="#3c3c3c" stroke-width="1"/>
<text x="326.20" y="593.05" font-size="8.3" text-anchor="end" fill="#111" font-weight="bold" textLength="11.60" lengthAdjust="spacingAndGlyphs" stroke="#111" stroke-width="0.25">0.8</text>
<line x1="331.50" y1="573.12" x2="334.50" y2="573.12" stroke="#3c3c3c" stroke-width="1"/>
<text x="326.20" y="576.08" font-size="8.3" text-anchor="end" fill="#111" font-weight="bold" stroke="#111" stroke-width="0.25">1</text>
<line x1="331.50" y1="556.15" x2="334.50" y2="556.15" stroke="#3c3c3c" stroke-width="1"/>
<text x="326.20" y="559.10" font-size="8.3" text-anchor="end" fill="#111" font-weight="bold" textLength="11.60" lengthAdjust="spacingAndGlyphs" stroke="#111" stroke-width="0.25">1.2</text>
<line x1="331.50" y1="539.18" x2="334.50" y2="539.18" stroke="#3c3c3c" stroke-width="1"/>
<text x="326.20" y="542.13" font-size="8.3" text-anchor="end" fill="#111" font-weight="bold" textLength="11.60" lengthAdjust="spacingAndGlyphs" stroke="#111" stroke-width="0.25">1.4</text>
<line x1="331.50" y1="522.20" x2="334.50" y2="522.20" stroke="#3c3c3c" stroke-width="1"/>
<text x="326.20" y="525.15" font-size="8.3" text-anchor="end" fill="#111" font-weight="bold" textLength="11.60" lengthAdjust="spacingAndGlyphs" stroke="#111" stroke-width="0.25">1.6</text>
<line x1="334.50" y1="658.00" x2="334.50" y2="661.00" stroke="#3c3c3c" stroke-width="1"/>
<line x1="375.70" y1="658.00" x2="375.70" y2="661.00" stroke="#3c3c3c" stroke-width="1"/>
<line x1="416.90" y1="658.00" x2="416.90" y2="661.00" stroke="#3c3c3c" stroke-width="1"/>
<line x1="458.10" y1="658.00" x2="458.10" y2="661.00" stroke="#3c3c3c" stroke-width="1"/>
<line x1="499.30" y1="658.00" x2="499.30" y2="661.00" stroke="#3c3c3c" stroke-width="1"/>
<line x1="540.50" y1="658.00" x2="540.50" y2="661.00" stroke="#3c3c3c" stroke-width="1"/>
<text x="355.10" y="672.80" font-size="8.2" text-anchor="middle" fill="#111" font-weight="bold" textLength="27.90" lengthAdjust="spacingAndGlyphs" stroke="#111" stroke-width="0.25">Control</text>
<text x="396.30" y="672.80" font-size="8.2" text-anchor="middle" fill="#111" font-weight="bold" textLength="13.20" lengthAdjust="spacingAndGlyphs" stroke="#111" stroke-width="0.25">STZ</text>
<text x="437.50" y="672.80" font-size="8.2" text-anchor="middle" fill="#111" font-weight="bold" textLength="31.80" lengthAdjust="spacingAndGlyphs" stroke="#111" stroke-width="0.25">RDR 100</text>
<text x="478.70" y="672.80" font-size="8.2" text-anchor="middle" fill="#111" font-weight="bold" textLength="31.90" lengthAdjust="spacingAndGlyphs" stroke="#111" stroke-width="0.25">RDR 500</text>
<text x="519.90" y="672.80" font-size="8.2" text-anchor="middle" fill="#111" font-weight="bold" textLength="16.50" lengthAdjust="spacingAndGlyphs" stroke="#111" stroke-width="0.25">MET</text>
<line x1="417.80" y1="679.50" x2="540.40" y2="679.50" stroke="#222" stroke-width="1"/>
<text x="479.40" y="692.80" font-size="9.6" text-anchor="middle" fill="#111" font-weight="bold" textLength="16.20" lengthAdjust="spacingAndGlyphs" stroke="#111" stroke-width="0.25">STZ</text>
<text x="300.00" y="624.80" font-size="10.8" text-anchor="start" fill="#111" font-weight="bold" textLength="30.30" lengthAdjust="spacingAndGlyphs" transform="rotate(-90 300.00 624.80)" stroke="#111" stroke-width="0.25">CREA</text>
<text x="300.00" y="590.80" font-size="10.8" text-anchor="start" fill="#111" font-weight="bold" textLength="40.00" lengthAdjust="spacingAndGlyphs" transform="rotate(-90 300.00 590.80)" stroke="#111" stroke-width="0.25">(mg/dl)</text>
<rect x="342.00" y="504.90" width="4.00" height="4.00" fill="#000"/>
<rect x="342.00" y="523.00" width="4.00" height="4.00" fill="#b4aeac"/>
<text x="348.30" y="509.30" font-size="6.9" text-anchor="start" fill="#111" font-weight="bold" textLength="22.50" lengthAdjust="spacingAndGlyphs" stroke="#111" stroke-width="0.25">0 week</text>
<text x="348.30" y="527.40" font-size="6.9" text-anchor="start" fill="#111" font-weight="bold" textLength="22.50" lengthAdjust="spacingAndGlyphs" stroke="#111" stroke-width="0.25">4 week</text>
<polyline points="401.50,494.80 401.50,491.40 524.40,491.40 524.40,561.20" fill="none" stroke="#5a5a5a" stroke-width="1" stroke-linejoin="round"/>
<text x="465.90" y="488.90" font-size="6.4" text-anchor="middle" fill="#222" font-weight="bold" font-style="italic" stroke="#222" stroke-width="0.45">##</text>
<polyline points="401.50,503.50 401.50,500.20 483.60,500.20 483.60,554.10" fill="none" stroke="#5a5a5a" stroke-width="1" stroke-linejoin="round"/>
<text x="445.20" y="497.80" font-size="6.4" text-anchor="middle" fill="#222" font-weight="bold" font-style="italic" stroke="#222" stroke-width="0.45">##</text>
<polyline points="401.50,516.20 401.50,509.30 442.40,509.30 442.40,553.50" fill="none" stroke="#5a5a5a" stroke-width="1" stroke-linejoin="round"/>
<text x="423.10" y="507.10" font-size="6.4" text-anchor="middle" fill="#222" font-weight="bold" font-style="italic" stroke="#222" stroke-width="0.45">##</text>
<text x="390.90" y="574.60" font-size="7.6" text-anchor="middle" fill="#111" font-weight="bold" stroke="#111" stroke-width="0.5" letter-spacing="1.0">*</text>
<text x="402.50" y="526.70" font-size="7.6" text-anchor="middle" fill="#111" font-weight="bold" stroke="#111" stroke-width="0.5" letter-spacing="1.0">**</text>
<text x="432.40" y="582.60" font-size="7.6" text-anchor="middle" fill="#111" font-weight="bold" stroke="#111" stroke-width="0.5" letter-spacing="1.0">**</text>
<text x="473.40" y="585.30" font-size="7.6" text-anchor="middle" fill="#111" font-weight="bold" stroke="#111" stroke-width="0.5" letter-spacing="1.0">*</text>
<text x="514.70" y="575.20" font-size="7.6" text-anchor="middle" fill="#111" font-weight="bold" stroke="#111" stroke-width="0.5" letter-spacing="1.0">**</text>
</svg>
</body></html>
